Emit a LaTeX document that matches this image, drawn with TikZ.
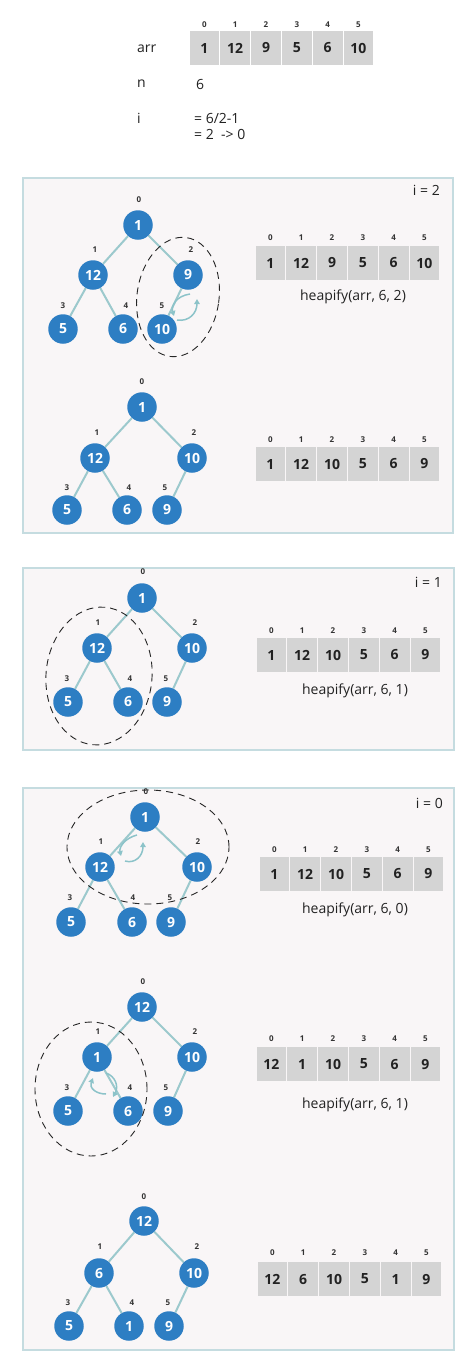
\documentclass[tikz,border=0pt]{standalone}
\usepackage{fontspec}
\setmainfont{Open Sans}
\usetikzlibrary{arrows.meta,backgrounds}
\definecolor{nodeblue}{RGB}{45,126,195}
\definecolor{edgec}{RGB}{156,201,205}
\definecolor{arrowc}{RGB}{140,195,201}
\definecolor{cellgray}{RGB}{212,212,212}
\definecolor{panelbg}{RGB}{249,246,247}
\definecolor{panelborder}{RGB}{197,220,224}
\definecolor{textdark}{RGB}{34,34,34}
\definecolor{idxc}{RGB}{51,51,51}
\tikzset{
 hnode/.style={circle,fill=nodeblue,text=white,minimum size=29.5pt,inner sep=0pt,font=\fontsize{14}{16}\selectfont\bfseries},
 idx/.style={inner sep=0pt,text=idxc,font=\fontsize{8}{9}\selectfont\bfseries},
 tedge/.style={draw=edgec,line width=2pt},
 cell/.style={fill=cellgray,minimum width=29.8pt,minimum height=34pt,inner sep=0pt,font=\fontsize{14}{16}\selectfont\bfseries,text=textdark},
 panel/.style={fill=panelbg,draw=panelborder,line width=1.2pt},
 swaparr/.style={draw=arrowc,line width=1.5pt,-{Triangle[length=5pt,width=5.5pt]}},
 ring/.style={draw=black!85,dash pattern=on 7pt off 5pt,line width=0.9pt},
 lbl/.style={inner sep=0pt,font=\fontsize{14}{16}\selectfont,text=textdark},
}
\newcommand\harr[5]{%
 \foreach \v [count=\k from 0] in {#5} {
   \node[cell] (#1c\k) at ({#2+15.4+30.8*\k},{#3+17}) {\v};
   \node[idx] (#1i\k) at ({#2+15.4+30.8*\k},#4) {\k};
 }}
\newcommand\htree[2]{%
 \foreach \k/\x/\y/\v/\lx/\ly in {#2} {
   \node[hnode] (#1n\k) at (\x,\y) {\v};
   \node[idx] (#1l\k) at (\lx,\ly) {\k};
 }
 \begin{pgfonlayer}{background}
   \draw[tedge] (#1n0)--(#1n1) (#1n0)--(#1n2) (#1n1)--(#1n3) (#1n1)--(#1n4) (#1n2)--(#1n5);
 \end{pgfonlayer}}
\begin{document}
\begin{tikzpicture}[x=1pt,y=-1pt]
\useasboundingbox (0,0) rectangle (474,1361);
\begin{pgfonlayer}{background}
 \fill[white] (0,0) rectangle (474,1361);
 \draw[panel] (23,178) rectangle (453,533);
 \draw[panel] (23,568) rectangle (454,750);
 \draw[panel] (23,788) rectangle (454,1350);
\end{pgfonlayer}
% top section
\node[lbl,anchor=west] (tarr) at (137,49) {arr};
\node[lbl,anchor=west] (tn) at (137,84) {n};
\node[lbl,anchor=west] (tnv) at (196,84) {6};
\node[lbl,anchor=west] (ti) at (137,118) {i};
\node[lbl,anchor=west] (tiv1) at (194,118) {= 6/2-1};
\node[lbl,anchor=west] (tiv2) at (194,134) {= 2 \ -> 0};
\harr{top}{189}{31}{25}{1,12,9,5,6,10}
% panel 1
\node[lbl,anchor=east] (p1i) at (440,190) {i = 2};
\htree{a}{0/138/225/1/139/200,1/93/275/12/95/250,2/188/275/9/191/250,3/63/329/5/63/306,4/123/329/6/126/306,5/162/329/10/162/306}
\harr{pa}{255}{246}{238}{1,12,9,5,6,10}
\node[lbl] (h1) at (353,297) {heapify(arr, 6, 2)};
\draw[ring,rotate around={-8:(178,297)}] (178,297) ellipse [x radius=41pt,y radius=60pt];
\draw[swaparr] (190,294) .. controls (176,296) and (171,306) .. (174,316);
\draw[swaparr] (177,320) .. controls (189,322) and (197,313) .. (197,299);
\htree{b}{0/142/407/1/142/382,1/95/458/12/97/433,2/192/458/10/194/433,3/67/510/5/67/488,4/127/510/6/129/488,5/167/510/9/165/488}
\harr{pb}{255}{447}{440}{1,12,10,5,6,9}
% panel 2
\node[lbl,anchor=east] (p2i) at (442,582) {i = 1};
\htree{c}{0/142/598/1/143/572,1/97/648/12/98/623,2/192/648/10/195/623,3/68/702/5/67/679,4/128/702/6/130/679,5/167/702/9/166/679}
\harr{pc}{256}{638}{631}{1,12,10,5,6,9}
\node[lbl] (h2) at (355,691) {heapify(arr, 6, 1)};
\draw[ring,rotate around={-5:(99,676)}] (99,676) ellipse [x radius=53pt,y radius=69pt];
% panel 3
\node[lbl,anchor=east] (p3i) at (443,803) {i = 0};
\htree{d}{0/145/817/1/146/792,1/100/867/12/101/842,2/197/867/10/198/842,3/71/922/5/70/898,4/132/922/6/133/898,5/171/922/9/170/898}
\harr{pd}{259}{857}{850}{1,12,10,5,6,9}
\node[lbl] (h3) at (355,910) {heapify(arr, 6, 0)};
\draw[ring] (148,847) ellipse [x radius=81pt,y radius=57pt];
\draw[swaparr] (137,835) .. controls (125,838) and (119,847) .. (121,856);
\draw[swaparr] (125,861) .. controls (135,864) and (143,856) .. (143,842);
\htree{e}{0/142/1007/12/143/982,1/97/1057/1/98/1032,2/192/1057/10/195/1032,3/68/1111/5/67/1088,4/128/1111/6/130/1088,5/168/1111/9/166/1088}
\harr{pe}{256}{1047}{1039}{12,1,10,5,6,9}
\node[lbl] (h4) at (355,1105) {heapify(arr, 6, 1)};
\draw[ring] (91,1089) ellipse [x radius=56pt,y radius=67pt];
\draw[swaparr] (106,1094) .. controls (96,1094) and (89,1088) .. (93,1078);
\draw[swaparr] (106,1073) .. controls (115,1076) and (119,1086) .. (113,1097);
\htree{f}{0/144/1221/12/144/1197,1/99/1273/6/100/1247,2/194/1273/10/197/1247,3/69/1326/5/68/1303,4/129/1326/1/132/1303,5/169/1326/9/168/1303}
\harr{pf}{257}{1262}{1253}{12,6,10,5,1,9}
\end{tikzpicture}
\end{document}
